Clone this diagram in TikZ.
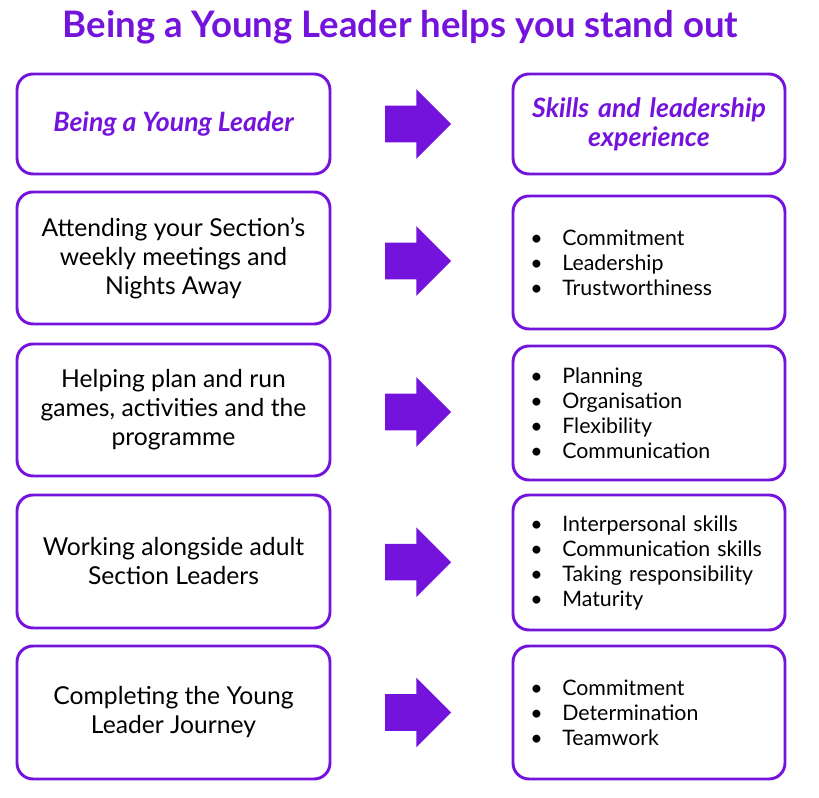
\documentclass[tikz,border=0pt]{standalone}
\usepackage{fontspec}
\setmainfont{Lato}
\usepackage{tikz}
\usetikzlibrary{shapes.arrows,positioning,calc}
\definecolor{scoutpurple}{HTML}{7413DC}
\newcommand{\itm}[1]{\makebox[24pt][l]{\textbullet}#1}

\begin{document}
\begin{tikzpicture}[x=0.75pt,y=-0.75pt,
    leftbox/.style={draw=scoutpurple, line width=2.2pt, rounded corners=12pt, minimum width=234.75pt, align=center, font=\fontsize{18.5}{21.75}\selectfont},
    rightbox/.style={draw=scoutpurple, line width=2.2pt, rounded corners=12pt, minimum width=204pt, text width=178pt, inner xsep=13pt, align=left, font=\fontsize{16}{18.75}\selectfont},
    head/.style={text=scoutpurple, font=\fontsize{20}{21.75}\selectfont\bfseries\itshape},
    bigarrow/.style={single arrow, fill=scoutpurple, inner xsep=0pt, inner ysep=13.5pt, single arrow head extend=12.4pt, minimum height=49.5pt}]
    \useasboundingbox (0,0) rectangle (819,798);
    \node[anchor=base, text=scoutpurple, font=\fontsize{27.4}{32}\selectfont\bfseries] (title) at (400.5,38) {Being a Young Leader helps you stand out};
    \node[leftbox, head, minimum height=75pt] (l1) at (173.5,124) {Being a Young Leader};
    \node[leftbox, minimum height=99pt] (l2) at (173.5,258) {Attending your Section’s\\weekly meetings and\\Nights Away};
    \node[leftbox, minimum height=99pt] (l3) at (173.5,410) {Helping plan and run\\games, activities and the\\programme};
    \node[leftbox, minimum height=99.75pt] (l4) at (173.5,561.5) {Working alongside adult\\Section Leaders};
    \node[leftbox, minimum height=99.75pt] (l5) at (173.5,712.5) {Completing the Young\\Leader Journey};
    \node[rightbox, head, align=center, minimum height=75pt] (r1) at (649,124) {Skills and leadership\\experience};
    \node[rightbox, minimum height=99.75pt] (r2) at (649,262.5) {\itm{Commitment}\\\itm{Leadership}\\\itm{Trustworthiness}};
    \node[rightbox, minimum height=100.5pt] (r3) at (649,413) {\itm{Planning}\\\itm{Organisation}\\\itm{Flexibility}\\\itm{Communication}};
    \node[rightbox, minimum height=101.25pt] (r4) at (649,562.5) {\itm{Interpersonal skills}\\\itm{Communication skills}\\\itm{Taking responsibility}\\\itm{Maturity}};
    \node[rightbox, minimum height=99.75pt] (r5) at (649,712.5) {\itm{Commitment}\\\itm{Determination}\\\itm{Teamwork}};
    \foreach \i in {1,...,5}
        \node[bigarrow, anchor=tip] (a\i) at ($(l\i.east)!2/3!(r\i.west)$) {};
\end{tikzpicture}
\end{document}
